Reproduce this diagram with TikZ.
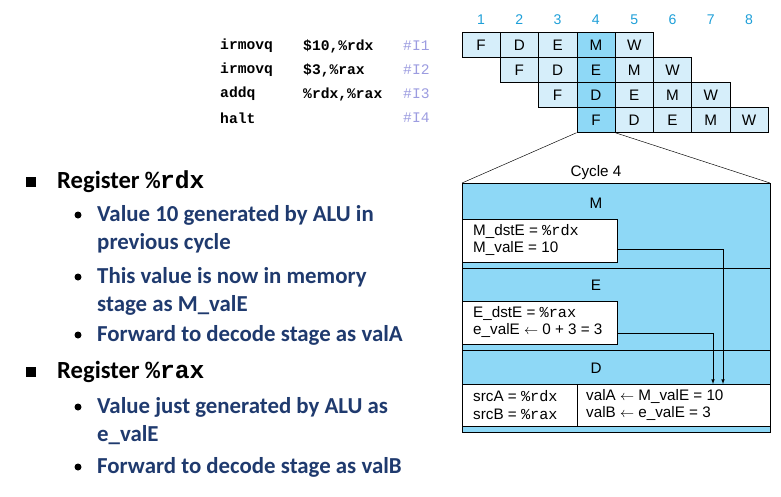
\documentclass[tikz,border=0pt]{standalone}
\usepackage{fontspec}
\setmainfont{Carlito}
\newfontfamily\hv{Liberation Sans}
\newfontfamily\cm{Liberation Mono}
\usetikzlibrary{positioning}
\definecolor{cellblue}{HTML}{D6EEFA}
\definecolor{hiblue}{HTML}{8ED8F6}
\definecolor{numblue}{HTML}{1E9FD8}
\definecolor{txtblue}{HTML}{1F3A6E}
\definecolor{tagpurple}{HTML}{9C9CE0}
\tikzset{
  cell/.style={draw, fill=cellblue, minimum width=38.3*0.03cm, minimum height=25*0.03cm, inner sep=0pt, font=\hv\fontsize{13}{15}\selectfont},
  hicell/.style={cell, fill=hiblue},
  code/.style={anchor=west, font=\cm\bfseries\fontsize{12.5}{15}\selectfont, inner sep=0pt},
  tag/.style={code, text=tagpurple, font=\cm\fontsize{12.5}{15}\selectfont},
  reg/.style={anchor=west, font=\bfseries\fontsize{21}{24}\selectfont, inner sep=0pt},
  item/.style={anchor=west, text=txtblue, font=\bfseries\fontsize{19.5}{22}\selectfont, inner sep=0pt},
  stage/.style={font=\hv\fontsize{13}{15}\selectfont},
  info/.style={anchor=west, align=left, font=\hv\fontsize{13}{15}\selectfont, inner sep=0pt},
  wbox/.style={draw, fill=white},
  fwd/.style={-latex}
}
\begin{document}
\begin{tikzpicture}[x=0.03cm,y=-0.03cm]
    \useasboundingbox (0,0) rectangle (781,496);
    % program
    \foreach \ins/\arg/\t [count=\i] in {irmovq/{\$10,\%rdx}/I1, irmovq/{\$3,\%rax}/I2, addq/{\%rdx,\%rax}/I3, halt/{}/I4} {
        \node[code] (op\i) at (220,22+24*\i) {\ins};
        \node[code] (arg\i) at (303,22+24*\i) {\arg};
        \node[tag] (tag\i) at (403,22+24*\i) {\#\t};
    }
    % cycle numbers
    \foreach \c in {1,...,8}
        \node[text=numblue, font=\hv\fontsize{12}{14}\selectfont] (n\c) at (481+38.3*\c-38.3,20) {\c};
    % pipeline cells
    \foreach \r in {1,...,4}
        \foreach \s [count=\k] in {F,D,E,M,W} {
            \pgfmathtruncatemacro{\col}{\r+\k-1}
            \ifnum\col=4
                \node[hicell] (c\r\k) at (481+38.3*\col-38.3,20+25*\r) {\s};
            \else
                \node[cell] (c\r\k) at (481+38.3*\col-38.3,20+25*\r) {\s};
            \fi
        }
    % zoom into cycle 4
    \coordinate (zl) at (462,183);
    \coordinate (zr) at (770,183);
    \draw (c41.south west) -- (zl);
    \draw (c41.south east) -- (zr);
    \draw[fill=hiblue] (462,183) rectangle (770,432);
    \node[font=\hv\fontsize{13}{15}\selectfont] (cyc) at (596,173) {Cycle 4};
    \draw (462,268) -- (770,268);
    \draw (462,350) -- (770,350);
    \node[stage] (sM) at (596,203) {M};
    \node[stage] (sE) at (596,285) {E};
    \node[stage] (sD) at (596,368) {D};
    \draw[wbox] (462,219) rectangle (617,262);
    \draw[wbox] (462,301) rectangle (617,344);
    \draw[wbox] (462,384) rectangle (770,426);
    \draw (577,384) -- (577,426);
    \node[info] (mreg) at (473,240) {M\_dstE = {\cm\%rdx}\\M\_valE = 10};
    \node[info] (ereg) at (473,322) {E\_dstE = {\cm\%rax}\\e\_valE $\leftarrow$ 0 + 3 = 3};
    \node[info] (dsrc) at (473,405) {srcA = {\cm\%rdx}\\srcB = {\cm\%rax}};
    \node[info] (dval) at (586,405) {valA $\leftarrow$ M\_valE = 10\\valB $\leftarrow$ e\_valE = 3};
    \coordinate (mout) at (617,249);
    \coordinate (eout) at (617,333);
    \coordinate (min) at (723,384);
    \coordinate (ein) at (713,384);
    \draw[fwd] (mout) -| (min);
    \draw[fwd] (eout) -| (ein);
    % bullet list
    \foreach \y/\txt in {182/{Register {\cm\%rdx}}, 372/{Register {\cm\%rax}}} {
        \fill (26,\y-5) rectangle (36,\y+5);
        \node[reg] at (57,\y) {\txt};
    }
    \foreach \y/\txt in {215/{Value 10 generated by ALU in}, 277/{This value is now in memory}, 335/{Forward to decode stage as valA}, 407/{Value just generated by ALU as}, 467/{Forward to decode stage as valB}} {
        \fill (78,\y) circle (3.5);
        \node[item] at (97,\y) {\txt};
    }
    \foreach \y/\txt in {243/{previous cycle}, 305/{stage as M\_valE}, 435/{e\_valE}}
        \node[item] at (97,\y) {\txt};
\end{tikzpicture}
\end{document}
